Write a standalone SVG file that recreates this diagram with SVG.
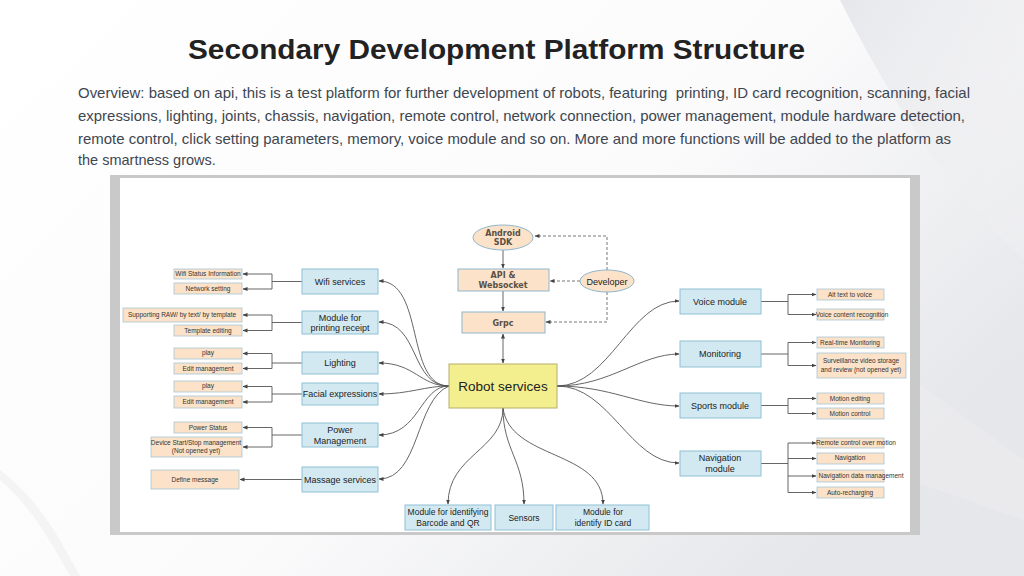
<svg xmlns="http://www.w3.org/2000/svg" width="1024" height="576" viewBox="0 0 1024 576">
<defs>
<linearGradient id="bgGrad" x1="0" y1="0" x2="1" y2="0.6">
<stop offset="0" stop-color="#ffffff"/>
<stop offset="0.6" stop-color="#fbfbfc"/>
<stop offset="1" stop-color="#e6e7ea"/>
</linearGradient>
<linearGradient id="swoosh" x1="0" y1="0" x2="1" y2="1">
<stop offset="0" stop-color="#e4e5e9" stop-opacity="0.9"/>
<stop offset="1" stop-color="#f4f4f6" stop-opacity="0.2"/>
</linearGradient>
<marker id="arr" viewBox="0 0 10 10" refX="9" refY="5" markerWidth="5" markerHeight="5" orient="auto-start-reverse" markerUnits="userSpaceOnUse">
<path d="M0,1 L10,5 L0,9 z" fill="#444"/>
</marker>
</defs>
<style>
.title{font-family:"Liberation Sans",Arial,sans-serif;font-weight:bold;font-size:27px;fill:#222}
.ov{font-family:"Liberation Sans",Arial,sans-serif;font-size:14.5px;fill:#3e4650}
.blue{fill:#d3e9f1;stroke:#8fc0d3;stroke-width:1}
.org{fill:#fbe2c8;stroke:#a9c5d6;stroke-width:0.8}
.bt{font-family:"Liberation Sans",Arial,sans-serif;font-size:9px;fill:#222;text-anchor:middle}
.ot{font-family:"Liberation Sans",Arial,sans-serif;font-size:6.5px;fill:#333;text-anchor:middle}
.ct{font-family:"DejaVu Sans",sans-serif;font-weight:bold;font-size:8px;fill:#5a5045;text-anchor:middle}
.ln{fill:none;stroke:#555;stroke-width:0.9}
.la{fill:none;stroke:#555;stroke-width:0.9;marker-end:url(#arr)}
.dash{fill:none;stroke:#666;stroke-width:0.9;stroke-dasharray:3,2;marker-end:url(#arr)}
</style>
<rect x="0" y="0" width="1024" height="576" fill="url(#bgGrad)"/>
<path d="M840,0 C900,120 960,200 1024,260 L1024,0 Z" fill="url(#swoosh)"/>
<path d="M900,370 L1024,460 L1024,520 L880,470 Z" fill="#ececef" opacity="0.6"/>
<path d="M0,470 C40,500 60,540 80,576 L70,576 C50,540 30,505 0,480 Z" fill="#eeeeee" opacity="0.6"/>

<text class="title" x="188" y="59" textLength="617" lengthAdjust="spacingAndGlyphs">Secondary Development Platform Structure</text>
<text class="ov" x="78" y="98" textLength="892" lengthAdjust="spacingAndGlyphs">Overview: based on api, this is a test platform for further development of robots, featuring &#160;printing, ID card recognition, scanning, facial</text>
<text class="ov" x="78" y="121" textLength="887" lengthAdjust="spacingAndGlyphs">expressions, lighting, joints, chassis, navigation, remote control, network connection, power management, module hardware detection,</text>
<text class="ov" x="78" y="144" textLength="873" lengthAdjust="spacingAndGlyphs">remote control, click setting parameters, memory, voice module and so on. More and more functions will be added to the platform as</text>
<text class="ov" x="78" y="165">the smartness grows.</text>

<!-- frame -->
<rect x="110" y="175" width="810" height="360" fill="#c9c9c9"/>
<rect x="120" y="178" width="790" height="354" fill="#ffffff"/>

<g id="connectors">
<!-- center stack -->
<path class="la" d="M503,250 L503,268"/>
<path class="la" d="M503,291 L503,311"/>
<path class="la" d="M503,334 L503,363" style="marker-start:url(#arr)"/>
<path class="dash" d="M607,270 L607,236 L535,236"/>
<path class="dash" d="M580,281 L550,281"/>
<path class="dash" d="M607,292 L607,322 L546,322"/>
<!-- robot to left modules -->
<path class="la" d="M449,386 C405,386 425,281 379,281"/>
<path class="la" d="M449,386 C410,386 420,322 379,322"/>
<path class="la" d="M449,386 C420,386 415,363 379,363"/>
<path class="la" d="M449,386 C425,386 410,394 379,394"/>
<path class="la" d="M449,386 C420,386 420,435 379,435"/>
<path class="la" d="M449,386 C415,400 420,479 379,479"/>
<!-- robot to bottom -->
<path class="la" d="M503,408 C503,450 448,455 448,504"/>
<path class="la" d="M503,408 C503,450 524,460 524,504"/>
<path class="la" d="M503,408 C510,460 603,450 603,504"/>
<!-- robot to right -->
<path class="la" d="M557,386 C610,386 630,301 679,301"/>
<path class="la" d="M557,386 C610,386 640,354 679,354"/>
<path class="la" d="M557,386 C610,386 640,406 679,406"/>
<path class="la" d="M557,386 C610,386 630,463 679,463"/>
<!-- left brackets -->
<path class="ln" d="M302,281.5 L272,281.5 M272,274 L272,289"/>
<path class="la" d="M272,274 L243,274"/><path class="la" d="M272,289 L243,289"/>
<path class="ln" d="M302,322.5 L272,322.5 M272,315 L272,330.5"/>
<path class="la" d="M272,315 L243,315"/><path class="la" d="M272,330.5 L243,330.5"/>
<path class="ln" d="M302,363 L272,363 M272,353.5 L272,368.5"/>
<path class="la" d="M272,353.5 L243,353.5"/><path class="la" d="M272,368.5 L243,368.5"/>
<path class="ln" d="M302,394 L272,394 M272,386.5 L272,402"/>
<path class="la" d="M272,386.5 L243,386.5"/><path class="la" d="M272,402 L243,402"/>
<path class="ln" d="M302,435 L272,435 M272,427.5 L272,447"/>
<path class="la" d="M272,427.5 L243,427.5"/><path class="la" d="M272,447 L243,447"/>
<path class="la" d="M302,479.5 L240,479.5"/>
<!-- right brackets -->
<path class="ln" d="M761,301.5 L788,301.5 M788,294.5 L788,314.5"/>
<path class="la" d="M788,294.5 L816,294.5"/><path class="la" d="M788,314.5 L816,314.5"/>
<path class="ln" d="M761,354 L788,354 M788,342.5 L788,365.5"/>
<path class="la" d="M788,342.5 L816,342.5"/><path class="la" d="M788,365.5 L816,365.5"/>
<path class="ln" d="M761,405.5 L788,405.5 M788,398.5 L788,413.5"/>
<path class="la" d="M788,398.5 L816,398.5"/><path class="la" d="M788,413.5 L816,413.5"/>
<path class="ln" d="M761,463.5 L788,463.5 M788,443 L788,492.5"/>
<path class="la" d="M788,443 L816,443"/><path class="la" d="M788,458.5 L816,458.5"/>
<path class="la" d="M788,476 L816,476"/><path class="la" d="M788,492.5 L816,492.5"/>
</g>

<!-- center nodes -->
<g id="android-sdk"><ellipse cx="503" cy="237.5" rx="30" ry="12.5" fill="#fbe2c8" stroke="#8fb6cf" stroke-width="1"/>
<text class="ct" x="503" y="235.5">Android</text><text class="ct" x="503" y="245">SDK</text></g>
<g id="api"><rect class="org" x="458" y="269" width="91" height="22" style="stroke:#8fb6cf;stroke-width:1"/>
<text class="ct" x="503" y="278">API &amp;</text><text class="ct" x="503" y="287.5">Websocket</text></g>
<g id="grpc"><rect class="org" x="462" y="312" width="83" height="21" style="stroke:#8fb6cf;stroke-width:1"/>
<text class="ct" x="503" y="325.5">Grpc</text></g>
<g id="developer"><ellipse cx="607" cy="281" rx="27" ry="11" fill="#fbe2c8" stroke="#8fb6cf" stroke-width="1"/>
<text class="bt" x="607" y="284.5">Developer</text></g>
<g id="robot"><rect x="449" y="364" width="108" height="44" fill="#f4ef8e" stroke="#b5ae6a" stroke-width="1"/>
<text x="503" y="390.5" text-anchor="middle" font-family="Liberation Sans, Arial, sans-serif" font-size="13.5" fill="#222">Robot services</text></g>

<!-- left modules -->
<g id="wifi"><rect class="blue" x="302" y="269" width="76" height="25"/><text class="bt" x="340" y="284.5">Wifi services</text></g>
<g id="printing"><rect class="blue" x="302" y="311" width="76" height="23"/><text class="bt" x="340" y="320.5">Module for</text><text class="bt" x="340" y="331">printing receipt</text></g>
<g id="lighting"><rect class="blue" x="302" y="352" width="76" height="22"/><text class="bt" x="340" y="366">Lighting</text></g>
<g id="facial"><rect class="blue" x="302" y="383" width="76" height="22"/><text class="bt" x="340" y="397">Facial expressions</text></g>
<g id="power"><rect class="blue" x="302" y="423" width="76" height="24"/><text class="bt" x="340" y="432.5">Power</text><text class="bt" x="340" y="443.5">Management</text></g>
<g id="massage"><rect class="blue" x="302" y="467" width="76" height="25"/><text class="bt" x="340" y="482.5">Massage services</text></g>

<!-- left leaves -->
<g id="wifi-status"><rect class="org" x="174" y="269" width="68" height="10"/><text class="ot" x="208" y="276.3">Wifi Status Information</text></g>
<g id="network-setting"><rect class="org" x="174" y="283" width="68" height="11"/><text class="ot" x="208" y="290.8">Network setting</text></g>
<g id="supporting-raw"><rect class="org" x="123" y="308" width="119" height="14"/><text class="ot" x="182" y="317.3">Supporting RAW/ by text/ by template</text></g>
<g id="template-editing"><rect class="org" x="174" y="325" width="68" height="11"/><text class="ot" x="208" y="332.8">Template editing</text></g>
<g id="light-play"><rect class="org" x="174" y="348" width="68" height="11"/><text class="ot" x="208" y="354.8">play</text></g>
<g id="light-edit"><rect class="org" x="174" y="363" width="68" height="11"/><text class="ot" x="208" y="370.8">Edit management</text></g>
<g id="facial-play"><rect class="org" x="174" y="381" width="68" height="11"/><text class="ot" x="208" y="387.8">play</text></g>
<g id="facial-edit"><rect class="org" x="174" y="396" width="68" height="12"/><text class="ot" x="208" y="404.3">Edit management</text></g>
<g id="power-status"><rect class="org" x="174" y="422" width="68" height="11"/><text class="ot" x="208" y="429.8">Power Status</text></g>
<g id="device-start"><rect class="org" x="151" y="437" width="91" height="20"/><text class="ot" x="196" y="444.5">Device Start/Stop management</text><text class="ot" x="196" y="453">(Not opened yet)</text></g>
<g id="define-message"><rect class="org" x="151" y="470" width="88" height="19"/><text class="ot" x="195" y="481.8">Define message</text></g>

<!-- bottom modules -->
<g id="barcode"><rect class="blue" x="405" y="505" width="86" height="25"/><text class="bt" x="448" y="515" style="font-size:8.5px">Module for identifying</text><text class="bt" x="448" y="526" style="font-size:8.5px">Barcode and QR</text></g>
<g id="sensors"><rect class="blue" x="495" y="505" width="58" height="25"/><text class="bt" x="524" y="520.5" style="font-size:8.5px">Sensors</text></g>
<g id="idcard"><rect class="blue" x="556" y="505" width="93" height="25"/><text class="bt" x="603" y="515" style="font-size:8.5px">Module for</text><text class="bt" x="603" y="526" style="font-size:8.5px">identify ID card</text></g>

<!-- right modules -->
<g id="voice"><rect class="blue" x="680" y="289" width="81" height="25"/><text class="bt" x="720" y="304.5">Voice module</text></g>
<g id="monitoring"><rect class="blue" x="680" y="341" width="81" height="26"/><text class="bt" x="720" y="357">Monitoring</text></g>
<g id="sports"><rect class="blue" x="680" y="393" width="81" height="25"/><text class="bt" x="720" y="408.5">Sports module</text></g>
<g id="navigation"><rect class="blue" x="680" y="451" width="81" height="25"/><text class="bt" x="720" y="461">Navigation</text><text class="bt" x="720" y="472">module</text></g>

<!-- right leaves -->
<g id="alt-text"><rect class="org" x="817" y="289" width="67" height="11"/><text class="ot" x="850" y="296.8">Alt text to voice</text></g>
<g id="voice-recog"><rect class="org" x="817" y="309" width="67" height="11"/><text class="ot" x="852" y="316.8">Voice content recognition</text></g>
<g id="realtime"><rect class="org" x="817" y="337" width="67" height="11"/><text class="ot" x="850" y="344.8">Real-time Monitoring</text></g>
<g id="surveillance"><rect class="org" x="817" y="353" width="89" height="25"/><text class="ot" x="861" y="363">Surveillance video storage</text><text class="ot" x="861" y="372">and review (not opened yet)</text></g>
<g id="motion-editing"><rect class="org" x="817" y="393" width="67" height="11"/><text class="ot" x="850" y="400.8">Motion editing</text></g>
<g id="motion-control"><rect class="org" x="817" y="408" width="67" height="11"/><text class="ot" x="850" y="415.8">Motion control</text></g>
<g id="remote-control"><rect class="org" x="817" y="438" width="67" height="10"/><text class="ot" x="856" y="445.3">Remote control over motion</text></g>
<g id="nav"><rect class="org" x="817" y="453" width="67" height="11"/><text class="ot" x="850" y="460.3">Navigation</text></g>
<g id="nav-data"><rect class="org" x="817" y="470" width="67" height="12"/><text class="ot" x="861" y="478.3">Navigation data management</text></g>
<g id="auto-recharging"><rect class="org" x="817" y="487" width="67" height="11"/><text class="ot" x="850" y="494.8">Auto-recharging</text></g>
</svg>
